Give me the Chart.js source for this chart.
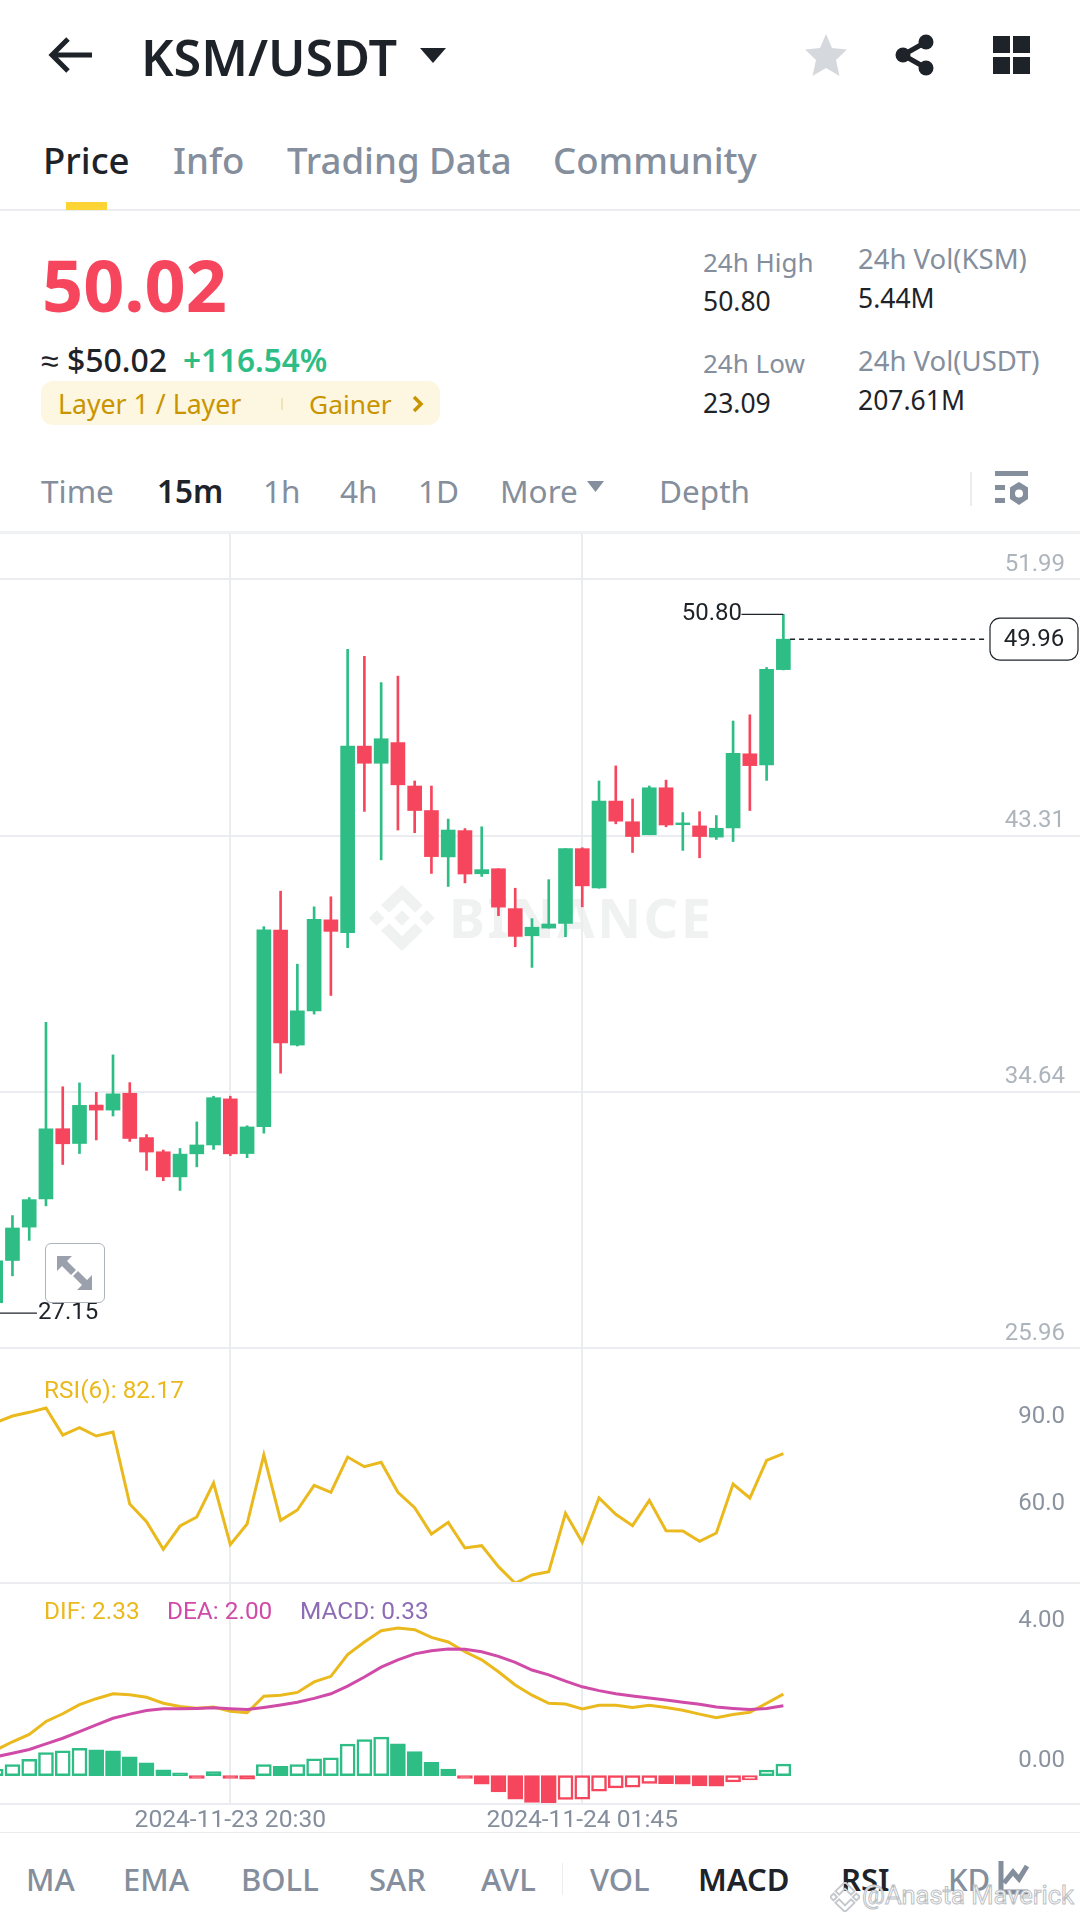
<!DOCTYPE html>
<html>
<head>
<meta charset="utf-8">
<title>KSM/USDT</title>
<script src="https://cdn.jsdelivr.net/npm/chart.js@4"></script>
<style>
  html, body { margin: 0; background: #fff; }
  #app { position: relative; width: 1080px; height: 1921px; overflow: hidden; font-family: "Noto Sans", sans-serif; color: #1E2329; }
  #app canvas { position: absolute; left: 0; }
  .t { position: absolute; white-space: nowrap; line-height: 1; transform: translateY(-50%); }
  .line { position: absolute; background: #EAECEF; }
  .tab { font-size: 36.600px; font-weight: 500; color: #848E9C; top: 160px; }
  .stat { font-size: 26px; color: #848E9C; }
  .vol { font-size: 27.500px; color: #848E9C; }
  .val { font-size: 26.500px; color: #1E2329; }
  .iv { font-size: 31.500px; color: #848E9C; top: 491px; }
  .nav { font-size: 31px; font-weight: 500; color: #848E9C; top: 1879px; }
  .leg { font-family: Roboto, sans-serif; font-size: 24.400px; }
  svg { position: absolute; }
</style>
</head>
<body>
<div id="app">
  <!-- header -->
  <svg style="left:48px;top:36px" width="46" height="38" viewBox="0 0 46 38"><path d="M20 3 L4 19 L20 35 M4 19 H44" fill="none" stroke="#1E2329" stroke-width="5"/></svg>
  <span class="t" style="left:141px;top:57px;font-size:50.300px;font-weight:600;">KSM/USDT</span>
  <svg style="left:419px;top:47px" width="28" height="17" viewBox="0 0 28 17"><path d="M1 1 H27 L14 16 Z" fill="#1E2329"/></svg>
  <svg style="left:804px;top:33px" width="44" height="44" viewBox="0 0 44 44"><path d="M22 1 L28 15 L43 16.500 L32 27 L35.500 43 L22 35 L8.500 43 L12 27 L1 16.500 L16 15 Z" fill="#D5D9DE"/></svg>
  <svg style="left:894px;top:34px" width="42" height="42" viewBox="0 0 42 42"><path d="M32 8 L9 21 L32 34" fill="none" stroke="#1E2329" stroke-width="5"/><circle cx="32" cy="8" r="7.500" fill="#1E2329"/><circle cx="9" cy="21" r="7.500" fill="#1E2329"/><circle cx="32" cy="34" r="7.500" fill="#1E2329"/></svg>
  <svg style="left:993px;top:36px" width="37" height="38" viewBox="0 0 37 38" fill="#1E2329"><rect width="17" height="17"/><rect x="20" width="17" height="17"/><rect y="21" width="17" height="17"/><rect x="20" y="21" width="17" height="17"/></svg>

  <span class="t tab" style="left:43px;color:#1E2329;">Price</span>
  <span class="t tab" style="left:173px;">Info</span>
  <span class="t tab" style="left:287px;">Trading Data</span>
  <span class="t tab" style="left:553px;">Community</span>
  <div class="line" style="left:0;top:209px;width:1080px;height:2px;"></div>
  <div class="line" style="left:66px;top:202px;width:41px;height:8px;background:#FCD535;"></div>

  <!-- price block -->
  <span class="t" style="left:42px;top:284px;font-size:72px;font-weight:700;color:#F6465D;">50.02</span>
  <span class="t" style="left:41px;top:360px;font-size:32px;font-weight:500;">≈ $50.02</span>
  <span class="t" style="left:183px;top:360px;font-size:31.500px;font-weight:600;color:#2EBD85;">+116.54%</span>
  <div style="position:absolute;left:41px;top:381px;width:399px;height:44px;border-radius:12px;background:#FDF6E1;"></div>
  <span class="t" style="left:58px;top:404px;font-size:26.700px;color:#C99400;">Layer 1 / Layer</span>
  <div class="line" style="left:281px;top:398px;width:2px;height:12px;background:#EFE3B8;"></div>
  <span class="t" style="left:309px;top:404px;font-size:26.300px;color:#C99400;">Gainer</span>
  <svg style="left:412px;top:395px" width="12" height="18" viewBox="0 0 12 18"><path d="M2 2 L9 9 L2 16" fill="none" stroke="#C99400" stroke-width="3.500"/></svg>

  <span class="t stat" style="left:703px;top:262px;">24h High</span>
  <span class="t val" style="left:703px;top:301px;">50.80</span>
  <span class="t stat" style="left:703px;top:363px;">24h Low</span>
  <span class="t val" style="left:703px;top:403px;">23.09</span>
  <span class="t vol" style="left:858px;top:259px;">24h Vol(KSM)</span>
  <span class="t val" style="left:858px;top:298px;">5.44M</span>
  <span class="t vol" style="left:858px;top:361px;">24h Vol(USDT)</span>
  <span class="t val" style="left:858px;top:400px;">207.61M</span>

  <!-- interval row -->
  <span class="t iv" style="left:41px;">Time</span>
  <span class="t iv" style="left:157px;color:#1E2329;font-weight:600;">15m</span>
  <span class="t iv" style="left:263px;">1h</span>
  <span class="t iv" style="left:340px;">4h</span>
  <span class="t iv" style="left:418px;">1D</span>
  <span class="t iv" style="left:500px;">More</span>
  <svg style="left:586px;top:480px" width="19" height="13" viewBox="0 0 19 13"><path d="M1 1 H18 L9.500 12 Z" fill="#848E9C"/></svg>
  <span class="t iv" style="left:659px;">Depth</span>
  <div class="line" style="left:970px;top:472px;width:2px;height:34px;"></div>
  <svg style="left:995px;top:471px" width="34" height="36" viewBox="0 0 34 36" fill="#848E9C"><rect width="33" height="5"/><rect y="14" width="10" height="5"/><rect y="27" width="10" height="5"/><path d="M24 11 L33 16.500 V28 L24 34 L15 28 V16.500 Z"/><circle cx="24" cy="22.500" r="4" fill="#fff"/></svg>

  <div class="line" style="left:0;top:531px;width:1080px;height:3px;background:#F0F1F2;"></div>

  <!-- watermark under the candles -->
  <svg style="left:369px;top:885px" width="66" height="66" viewBox="0 0 126 126" fill="#F0F1F1"><path d="M38.700 53.200 L63 28 L88 53.200 L102.700 38.500 L63 0 L23 38.500 Z M0 63 L14.700 48.300 L29.400 63 L14.700 77.700 Z M96 63 L110.700 48.300 L125.400 63 L110.700 77.700 Z M63 48 L78 63 L63 78 L48 63 Z M38.700 72.800 L63 98 L88 72.800 L102.700 87.500 L63 126 L23 87.500 Z"/></svg>
  <span class="t" style="left:449px;top:917px;font-size:54px;font-weight:700;color:#F0F1F1;letter-spacing:2.500px;">BINANCE</span>

  <canvas id="priceChart" width="1080" height="816" style="top:534px"></canvas>
  <canvas id="rsiChart" width="1080" height="235" style="top:1349px"></canvas>
  <canvas id="macdChart" width="1080" height="250" style="top:1584px"></canvas>

  <div class="line" style="left:0;top:1582px;width:1080px;height:2px;"></div>
  <div class="line" style="left:0;top:1803px;width:1080px;height:2px;"></div>
  <div class="line" style="left:0;top:1832px;width:1080px;height:1px;"></div>

  <!-- expand button -->
  <div style="position:absolute;left:45px;top:1243px;width:58px;height:58px;border:1.500px solid #AEB4BC;border-radius:6px;background:#fff;"></div>
  <svg style="left:57px;top:1256px" width="35" height="34" viewBox="0 0 35 34" fill="#9AA1AC"><path d="M0 0 H15 L10 5 L19 14 L14 19 L5 10 L0 15 Z"/><path d="M35 34 H20 L25 29 L16 20 L21 15 L30 24 L35 19 Z"/></svg>

  <span class="t leg" style="left:44px;top:1390px;color:#EAB91E;">RSI(6): 82.17</span>
  <span class="t leg" style="left:44px;top:1611px;color:#EAB91E;">DIF: 2.33</span>
  <span class="t leg" style="left:167px;top:1611px;color:#D04BA8;">DEA: 2.00</span>
  <span class="t leg" style="left:300px;top:1611px;color:#8D6CB5;">MACD: 0.33</span>

  <!-- bottom nav -->
  <span class="t nav" style="left:26px;">MA</span>
  <span class="t nav" style="left:123px;">EMA</span>
  <span class="t nav" style="left:241px;">BOLL</span>
  <span class="t nav" style="left:369px;">SAR</span>
  <span class="t nav" style="left:481px;">AVL</span>
  <div class="line" style="left:562px;top:1863px;width:1px;height:32px;"></div>
  <span class="t nav" style="left:590px;">VOL</span>
  <span class="t nav" style="left:698px;color:#1E2329;font-weight:600;">MACD</span>
  <span class="t nav" style="left:841px;color:#1E2329;font-weight:600;">RSI</span>
  <span class="t nav" style="left:948px;">KD</span>
  <svg style="left:998px;top:1861px" width="31" height="34" viewBox="0 0 31 34"><path d="M3 0 V31 H30" fill="none" stroke="#848E9C" stroke-width="5"/><path d="M6 22 L15 11 L21 18 L29 5" fill="none" stroke="#848E9C" stroke-width="5"/></svg>
  <svg style="left:830px;top:1882px" width="30" height="30" viewBox="0 0 126 126" fill="none" stroke="#C4C8CD" stroke-width="8"><path d="M38.700 53.200 L63 28 L88 53.200 L102.700 38.500 L63 0 L23 38.500 Z M0 63 L14.700 48.300 L29.400 63 L14.700 77.700 Z M96 63 L110.700 48.300 L125.400 63 L110.700 77.700 Z M38.700 72.800 L63 98 L88 72.800 L102.700 87.500 L63 126 L23 87.500 Z"/></svg>
  <span class="t" style="left:862px;top:1896px;font-family:Roboto,sans-serif;font-size:25.500px;color:#fff;-webkit-text-stroke:1px #BDC1C6;">@Anasta Maverick</span>
</div>

<script>
// candles, left to right, 15m each
const open = [27.50, 28.93, 30.06, 31.01, 33.39, 32.89, 34.19, 34.02, 34.59, 33.09, 32.61, 31.76, 32.54, 32.84, 34.40, 32.55, 33.46, 40.11, 36.22, 37.38, 40.46, 40.03, 46.34, 45.76, 46.46, 44.99, 44.16, 42.59, 43.48, 42.02, 42.19, 40.84, 39.92, 40.18, 40.34, 42.87, 41.54, 44.48, 43.78, 43.34, 44.93, 43.68, 43.64, 43.26, 43.57, 46.08, 45.70, 48.93];
const close = [28.92, 30.03, 30.99, 33.39, 32.88, 34.18, 34.02, 34.57, 33.06, 32.60, 31.76, 32.53, 32.84, 34.44, 32.54, 33.45, 40.12, 36.29, 37.38, 40.48, 40.07, 46.34, 45.76, 46.59, 45.03, 44.16, 42.60, 43.50, 42.01, 42.16, 40.89, 39.90, 40.21, 40.32, 42.87, 41.61, 44.48, 43.80, 43.28, 44.93, 43.67, 43.74, 43.28, 43.56, 46.10, 45.68, 48.94, 49.96];
const high = [29.63, 30.45, 31.06, 36.99, 34.81, 34.94, 34.62, 35.89, 34.95, 33.19, 32.67, 32.72, 33.62, 34.49, 34.49, 33.49, 40.23, 41.43, 38.96, 40.90, 41.24, 49.62, 49.38, 48.49, 48.71, 45.16, 44.99, 43.87, 43.55, 43.61, 42.19, 41.53, 40.50, 41.82, 42.87, 42.90, 45.16, 45.67, 44.55, 44.99, 45.19, 44.09, 44.12, 43.99, 47.19, 47.40, 49.00, 50.80];
const low = [27.15, 28.41, 29.61, 30.78, 32.18, 32.55, 33.01, 33.82, 32.96, 31.98, 31.63, 31.30, 32.10, 32.69, 32.48, 32.41, 33.24, 35.27, 36.19, 37.27, 37.90, 39.52, 44.13, 42.49, 43.50, 43.41, 42.03, 41.59, 41.71, 41.93, 40.60, 39.55, 38.85, 40.18, 39.89, 40.90, 41.53, 43.71, 42.74, 43.34, 43.61, 42.81, 42.56, 43.18, 43.11, 44.16, 45.18, 48.92];
const rsi6 = [92.88, 95.17, 96.44, 97.93, 88.62, 91.15, 88.28, 89.66, 64.83, 58.74, 49.20, 57.24, 60.35, 72.07, 50.81, 57.93, 81.73, 59.20, 62.76, 71.27, 68.85, 81.04, 77.70, 79.20, 68.85, 63.57, 54.48, 58.51, 49.66, 50.46, 43.22, 37.50, 40.35, 41.50, 61.61, 51.61, 66.90, 61.27, 57.36, 66.09, 55.63, 55.52, 51.96, 54.83, 71.73, 66.90, 79.89, 82.17];
const dif = [0.73, 0.97, 1.18, 1.55, 1.77, 2.03, 2.20, 2.34, 2.31, 2.24, 2.07, 1.98, 1.93, 1.96, 1.84, 1.80, 2.27, 2.30, 2.38, 2.68, 2.84, 3.46, 3.82, 4.14, 4.22, 4.17, 3.95, 3.82, 3.54, 3.31, 2.97, 2.59, 2.30, 2.07, 2.05, 1.91, 2.01, 2.01, 1.95, 2.01, 1.95, 1.87, 1.76, 1.66, 1.75, 1.81, 2.07, 2.33];
const dea = [0.54, 0.64, 0.75, 0.91, 1.07, 1.26, 1.45, 1.64, 1.76, 1.86, 1.91, 1.91, 1.92, 1.94, 1.91, 1.89, 1.95, 2.02, 2.10, 2.21, 2.34, 2.56, 2.82, 3.10, 3.31, 3.48, 3.57, 3.62, 3.61, 3.54, 3.41, 3.24, 3.02, 2.88, 2.70, 2.54, 2.43, 2.34, 2.28, 2.22, 2.16, 2.10, 2.04, 1.96, 1.92, 1.89, 1.92, 2.00];
const macd = [0.19, 0.32, 0.47, 0.66, 0.71, 0.78, 0.74, 0.71, 0.54, 0.37, 0.17, 0.08, -0.08, 0.12, -0.08, -0.10, 0.32, 0.27, 0.32, 0.48, 0.51, 0.90, 1.03, 1.10, 0.91, 0.69, 0.38, 0.19, -0.08, -0.24, -0.46, -0.67, -0.76, -0.81, -0.68, -0.67, -0.44, -0.35, -0.33, -0.22, -0.23, -0.24, -0.29, -0.30, -0.18, -0.12, 0.16, 0.33];

const priceTicks = [51.99, 43.31, 34.64, 25.96];
const rsiTicks = [90, 60];
const macdTicks = [4, 0];
const gridIndex = [14, 35];
const gridLabels = ['2024-11-23 20:30', '2024-11-24 01:45'];
const lastPrice = 49.96;
const highMark = 50.80;
const lowMark = 27.15;

const GREEN = '#2EBD85';
const RED = '#F6465D';
const GRID = '#EAECEF';
const INK = '#1E2329';

// x is the candle number, so candles keep a 16.76px step across the canvas
const xMin = 0.2566;
const xMax = 64.7;
const idx = open.map((_, i) => i);

function xScale(showLabels) {
  return {
    type: 'linear', min: xMin, max: xMax, offset: false, stacked: true,
    grid: { color: GRID, lineWidth: 2, offset: false, drawTicks: false },
    border: { display: false },
    afterBuildTicks: s => { s.ticks = gridIndex.map(v => ({ value: v })); },
    afterFit: s => { s.height = showLabels ? 29 : 0; s.paddingLeft = 0; s.paddingRight = 0; },
    ticks: {
      display: showLabels, autoSkip: false, maxRotation: 0, padding: 1,
      color: '#848E9C', font: { family: 'Roboto', size: 24.6 },
      callback: v => gridLabels[gridIndex.indexOf(v)],
    },
  };
}

function yScale(min, max, ticks, digits, color, showGrid) {
  return {
    position: 'right', min, max, stacked: false,
    grid: { display: showGrid, color: GRID, lineWidth: 2, drawTicks: false },
    border: { display: false },
    afterBuildTicks: s => { s.ticks = ticks.map(v => ({ value: v })); },
    afterFit: s => { s.width = 0; s.paddingTop = 0; s.paddingBottom = 0; },
    ticks: {
      // a mirrored right axis counts padding to the right, hence the minus
      mirror: true, padding: -15, labelOffset: -14.5, autoSkip: false, color,
      font: { family: 'Roboto', size: 24 },
      callback: v => v.toFixed(digits),
    },
  };
}

const baseOptions = {
  responsive: false, animation: false, events: [],
  layout: { padding: 0 },
  plugins: { legend: { display: false }, tooltip: { enabled: false } },
};

function leader(data, dash) {
  return { type: 'line', data, borderColor: INK, borderWidth: dash ? 1.5 : 1.2, borderDash: dash || [], pointRadius: 0, order: 0 };
}

// price labels beside the high, the low and the last close
const priceLabels = {
  id: 'priceLabels',
  afterDraw(chart) {
    const { ctx, scales: { y } } = chart;
    ctx.save();
    ctx.font = '24px Roboto';
    ctx.fillStyle = INK;
    ctx.textBaseline = 'middle';
    ctx.textAlign = 'right';
    ctx.fillText(highMark.toFixed(2), 742, y.getPixelForValue(highMark));
    ctx.textAlign = 'left';
    ctx.fillText(lowMark.toFixed(2), 38, y.getPixelForValue(lowMark));
    const py = y.getPixelForValue(lastPrice);
    ctx.beginPath();
    ctx.roundRect(990, py - 21, 88, 42, 10);
    ctx.fillStyle = '#fff';
    ctx.fill();
    ctx.strokeStyle = INK;
    ctx.lineWidth = 1.2;
    ctx.stroke();
    ctx.fillStyle = INK;
    ctx.textAlign = 'center';
    ctx.fillText(lastPrice.toFixed(2), 1034, py + 1);
    ctx.restore();
  },
};

new Chart(document.getElementById('priceChart'), {
  type: 'bar',
  data: {
    datasets: [
      {
        data: idx.map(i => ({ x: i, y: [low[i], high[i]] })), stack: 'candle', order: 2, barThickness: 2,
        backgroundColor: idx.map(i => close[i] >= open[i] ? GREEN : RED),
      },
      {
        data: idx.map(i => ({ x: i, y: [open[i], close[i]] })), stack: 'candle', order: 1, barThickness: 14,
        backgroundColor: idx.map(i => close[i] >= open[i] ? GREEN : RED),
      },
      leader([{ x: 47, y: highMark }, { x: 44.5, y: highMark }]),
      leader([{ x: xMin, y: lowMark }, { x: 2.46, y: lowMark }]),
      leader([{ x: 47.4, y: lastPrice }, { x: 59.03, y: lastPrice }], [5, 4]),
    ],
  },
  options: {
    ...baseOptions,
    scales: { x: xScale(false), y: yScale(25.9, 53.52, priceTicks, 2, '#AEB4BC', true) },
  },
  plugins: [priceLabels],
});

new Chart(document.getElementById('rsiChart'), {
  type: 'line',
  data: {
    datasets: [{ data: idx.map(i => ({ x: i, y: rsi6[i] })), borderColor: '#EAB91E', borderWidth: 3, pointRadius: 0, tension: 0 }],
  },
  options: {
    ...baseOptions,
    scales: { x: xScale(false), y: yScale(37.24, 118.28, rsiTicks, 1, '#8A939F', false) },
  },
});

new Chart(document.getElementById('macdChart'), {
  type: 'bar',
  data: {
    datasets: [
      {
        data: idx.map(i => ({ x: i, y: macd[i] })), order: 2, barThickness: 15, borderWidth: 2.5, borderSkipped: false,
        borderColor: macd.map(v => v >= 0 ? GREEN : RED),
        backgroundColor: macd.map((v, i) => i === 0 || v > macd[i - 1] && i !== 13 ? '#fff' : (v >= 0 ? GREEN : RED)),
      },
      { type: 'line', data: idx.map(i => ({ x: i, y: dif[i] })), borderColor: '#EAB91E', borderWidth: 3, pointRadius: 0, tension: 0, order: 1 },
      { type: 'line', data: idx.map(i => ({ x: i, y: dea[i] })), borderColor: '#D04BA8', borderWidth: 3, pointRadius: 0, tension: 0, order: 0 },
    ],
  },
  options: {
    ...baseOptions,
    scales: { x: xScale(true), y: yScale(-0.837, 5.477, macdTicks, 2, '#8A939F', false) },
  },
});
</script>
</body>
</html>
